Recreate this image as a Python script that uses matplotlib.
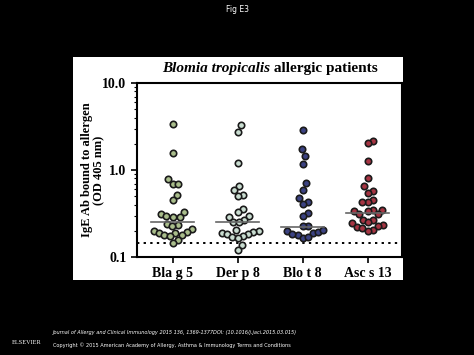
import numpy as np
import matplotlib
matplotlib.use("Agg")
import matplotlib.pyplot as plt
from matplotlib.patches import Rectangle

# allergen groups and IgE values (OD 405 nm)
allergens = ["Bla g 5", "Der p 8", "Blo t 8", "Asc s 13"]
bla_g5 = [3.4, 1.55, 0.78, 0.69, 0.69, 0.52, 0.45, 0.33, 0.31, 0.30, 0.29, 0.29, 0.24,
          0.235, 0.23, 0.21, 0.20, 0.195, 0.19, 0.188, 0.18, 0.178, 0.175, 0.155, 0.145]
der_p8 = [3.3, 2.75, 1.2, 0.65, 0.59, 0.51, 0.50, 0.355, 0.33, 0.30, 0.29, 0.27, 0.25,
          0.25, 0.205, 0.20, 0.195, 0.19, 0.185, 0.182, 0.175, 0.172, 0.165, 0.138, 0.12]
blo_t8 = [2.86, 1.74, 1.45, 1.18, 0.71, 0.59, 0.48, 0.43, 0.41, 0.32, 0.30, 0.23, 0.23,
          0.20, 0.19, 0.178, 0.165, 0.172, 0.185, 0.195, 0.202]
asc_s13 = [2.18, 2.04, 1.28, 0.80, 0.66, 0.58, 0.55, 0.45, 0.43, 0.43, 0.35, 0.35, 0.34,
           0.34, 0.31, 0.31, 0.27, 0.27, 0.25, 0.245, 0.235, 0.23, 0.22, 0.215, 0.205, 0.20]
medians = [0.255, 0.25, 0.22, 0.32]
cutoff = 0.145
colors = ["#a9bd8b", "#c9ddd1", "#3b4282", "#a63442"]
groups = [bla_g5, der_p8, blo_t8, asc_s13]


def swarm(vals, dx0=5.4, dy0=8.5, px_per_dec=87.0, px_per_cat=65.0):
    # beeswarm in pixel space with an elliptical keep-out zone,
    # returns x offsets in category units
    ys = np.log10(np.array(vals)) * px_per_dec
    order = np.argsort(ys)
    placed = []
    offs = np.zeros(len(vals))
    for i in order:
        y = ys[i]
        cands = [0.0]
        for (xj, yj) in placed:
            t = ((y - yj) / dy0) ** 2
            if t < 1:
                dx = dx0 * np.sqrt(1 - t)
                cands += [xj + dx, xj - dx]
        cands.sort(key=abs)
        for c in cands:
            ok = all(((c - xj) / dx0) ** 2 + ((y - yj) / dy0) ** 2 >= 1 - 1e-6
                     for xj, yj in placed)
            if ok:
                break
        placed.append((c, y))
        offs[i] = c / px_per_cat
    return offs


fig = plt.figure(figsize=(4.74, 3.55), dpi=100)
fig.patch.set_facecolor("black")
fig.patches.append(Rectangle((0.154, 0.211), 0.696, 0.628, transform=fig.transFigure,
                             facecolor="white", edgecolor="none", zorder=-5))

ax = fig.add_axes([0.289, 0.276, 0.559, 0.490])
ax.set_zorder(2)
ax.set_facecolor("white")
ax.set_yscale("log")
ax.set_ylim(0.1, 10)
ax.set_xlim(-0.55, 3.53)

for k, vals in enumerate(groups):
    xs = k + swarm(vals)
    ax.plot(xs, vals, "o", ms=4.6, mfc=colors[k], mec="#1a1a1a", mew=1.2,
            linestyle="none", zorder=3)
    ax.plot([k - 0.33, k + 0.33], [medians[k], medians[k]], color="#666666", lw=1.2, zorder=4)

ax.axhline(cutoff, color="black", ls=(0, (1.2, 2.2)), lw=1.4, zorder=2)

serif = "Liberation Serif"
ax.set_xticks(range(len(allergens)))
ax.set_xticklabels(allergens, fontfamily=serif, fontweight="bold", fontsize=10)
ax.set_yticks([0.1, 1, 10])
ax.set_yticklabels(["0.1", "1.0", "10.0"], fontfamily=serif, fontweight="bold", fontsize=10)
ax.tick_params(axis="both", which="major", direction="out", length=4, width=1.2, color="black")
ax.tick_params(axis="y", which="minor", direction="out", length=2.5, width=0.8)
ax.tick_params(axis="x", which="minor", length=0)
for s in ax.spines.values():
    s.set_linewidth(1.5)

ax.set_ylabel("IgE Ab bound to allergen\n(OD 405 nm)", fontfamily=serif, fontweight="bold",
              fontsize=9, linespacing=1.05)
ax.yaxis.set_label_coords(-0.118, 0.5)

# title: italic bold species name followed by upright bold text
t1 = fig.text(0.0, 0.808, "Blomia tropicalis", ha="left", va="center", fontfamily=serif,
              fontweight="bold", style="italic", fontsize=11)
t2 = fig.text(0.0, 0.808, " allergic patients", ha="left", va="center", fontfamily=serif,
              fontweight="bold", fontsize=11)
fig.canvas.draw()
r = fig.canvas.get_renderer()
w1 = t1.get_window_extent(r).width / fig.bbox.width
w2 = t2.get_window_extent(r).width / fig.bbox.width
x0 = 0.57 - (w1 + w2) / 2
t1.set_x(x0)
t2.set_x(x0 + w1)

fig.text(0.5, 0.972, "Fig E3", color="white", ha="center", va="center", fontsize=5.5)
fig.text(0.057, 0.035, "ELSEVIER", color="white", ha="center", va="center",
         fontfamily=serif, fontsize=4.5)
fig.text(0.112, 0.062, "Journal of Allergy and Clinical Immunology 2015 136, 1369-1377DOI: (10.1016/j.jaci.2015.03.015)",
         color="white", ha="left", va="center", fontsize=3.6, style="italic")
fig.text(0.112, 0.028, "Copyright \u00a9 2015 American Academy of Allergy, Asthma & Immunology Terms and Conditions",
         color="white", ha="left", va="center", fontsize=3.6)

fig.savefig("out.png", dpi=100, facecolor="black")
